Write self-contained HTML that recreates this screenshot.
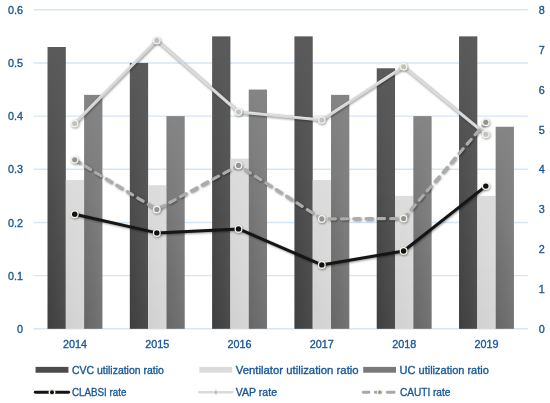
<!DOCTYPE html>
<html lang="en"><head><meta charset="utf-8"><title>Device utilization ratios and infection rates</title>
<style>html,body{margin:0;padding:0;background:#fff}body{width:550px;height:403px;overflow:hidden}svg{display:block}text{font-family:"Liberation Sans",Arial,sans-serif;font-size:10.8px;fill:#195893;stroke:#195893;stroke-width:.35px}</style></head><body>
<svg width="550" height="403" viewBox="0 0 550 403">
<defs>
<linearGradient id="hg" x1="0" y1="0" x2="1" y2="0"><stop offset="0" stop-color="#000" stop-opacity=".23"/><stop offset="1" stop-color="#000" stop-opacity=".08"/></linearGradient>
<linearGradient id="vg" x1="0" y1="0" x2="0" y2="1"><stop offset="0" stop-color="#fff" stop-opacity=".08"/><stop offset=".5" stop-color="#fff" stop-opacity=".72"/><stop offset="1" stop-color="#fff" stop-opacity="1"/></linearGradient>
<linearGradient id="vd" x1="0" y1="0" x2="0" y2="1"><stop offset="0" stop-color="#000" stop-opacity="0"/><stop offset=".45" stop-color="#000" stop-opacity="0"/><stop offset="1" stop-color="#000" stop-opacity=".11"/></linearGradient>
<mask id="vm" maskContentUnits="objectBoundingBox"><rect x="0" y="0" width="1" height="1" fill="url(#vg)"/></mask>
<filter id="sh" x="-5%" y="-5%" width="110%" height="110%"><feGaussianBlur stdDeviation="0.9"/></filter>
<filter id="shm" x="-50%" y="-50%" width="200%" height="200%"><feGaussianBlur stdDeviation="1"/></filter>
</defs>
<rect width="550" height="403" fill="#fff"/>
<line x1="33.8" y1="328.80" x2="527.8" y2="328.80" stroke="#d5e6f5" stroke-width="1.4"/>
<line x1="33.8" y1="275.63" x2="527.8" y2="275.63" stroke="#d5e6f5" stroke-width="1.4"/>
<line x1="33.8" y1="222.46" x2="527.8" y2="222.46" stroke="#d5e6f5" stroke-width="1.4"/>
<line x1="33.8" y1="169.29" x2="527.8" y2="169.29" stroke="#d5e6f5" stroke-width="1.4"/>
<line x1="33.8" y1="116.12" x2="527.8" y2="116.12" stroke="#d5e6f5" stroke-width="1.4"/>
<line x1="33.8" y1="62.95" x2="527.8" y2="62.95" stroke="#d5e6f5" stroke-width="1.4"/>
<line x1="33.8" y1="9.78" x2="527.8" y2="9.78" stroke="#d5e6f5" stroke-width="1.4"/>
<rect x="47.52" y="47.00" width="18.30" height="281.80" fill="#5c5c5c"/>
<rect x="47.52" y="47.00" width="18.30" height="281.80" fill="url(#hg)" mask="url(#vm)" opacity="1"/>
<rect x="47.52" y="47.00" width="18.30" height="281.80" fill="url(#vd)" opacity="1"/>
<rect x="65.83" y="179.92" width="18.30" height="148.88" fill="#dcdcdc"/>
<rect x="65.83" y="179.92" width="18.30" height="148.88" fill="url(#hg)" mask="url(#vm)" opacity=".15"/>
<rect x="65.83" y="179.92" width="18.30" height="148.88" fill="url(#vd)" opacity=".15"/>
<rect x="84.12" y="94.85" width="18.30" height="233.95" fill="#868686"/>
<rect x="84.12" y="94.85" width="18.30" height="233.95" fill="url(#hg)" mask="url(#vm)" opacity=".75"/>
<rect x="84.12" y="94.85" width="18.30" height="233.95" fill="url(#vd)" opacity=".75"/>
<rect x="129.82" y="62.95" width="18.30" height="265.85" fill="#5c5c5c"/>
<rect x="129.82" y="62.95" width="18.30" height="265.85" fill="url(#hg)" mask="url(#vm)" opacity="1"/>
<rect x="129.82" y="62.95" width="18.30" height="265.85" fill="url(#vd)" opacity="1"/>
<rect x="148.12" y="185.24" width="18.30" height="143.56" fill="#dcdcdc"/>
<rect x="148.12" y="185.24" width="18.30" height="143.56" fill="url(#hg)" mask="url(#vm)" opacity=".15"/>
<rect x="148.12" y="185.24" width="18.30" height="143.56" fill="url(#vd)" opacity=".15"/>
<rect x="166.42" y="116.12" width="18.30" height="212.68" fill="#868686"/>
<rect x="166.42" y="116.12" width="18.30" height="212.68" fill="url(#hg)" mask="url(#vm)" opacity=".75"/>
<rect x="166.42" y="116.12" width="18.30" height="212.68" fill="url(#vd)" opacity=".75"/>
<rect x="212.12" y="36.36" width="18.30" height="292.44" fill="#5c5c5c"/>
<rect x="212.12" y="36.36" width="18.30" height="292.44" fill="url(#hg)" mask="url(#vm)" opacity="1"/>
<rect x="212.12" y="36.36" width="18.30" height="292.44" fill="url(#vd)" opacity="1"/>
<rect x="230.42" y="158.66" width="18.30" height="170.14" fill="#dcdcdc"/>
<rect x="230.42" y="158.66" width="18.30" height="170.14" fill="url(#hg)" mask="url(#vm)" opacity=".15"/>
<rect x="230.42" y="158.66" width="18.30" height="170.14" fill="url(#vd)" opacity=".15"/>
<rect x="248.72" y="89.53" width="18.30" height="239.27" fill="#868686"/>
<rect x="248.72" y="89.53" width="18.30" height="239.27" fill="url(#hg)" mask="url(#vm)" opacity=".75"/>
<rect x="248.72" y="89.53" width="18.30" height="239.27" fill="url(#vd)" opacity=".75"/>
<rect x="294.43" y="36.36" width="18.30" height="292.44" fill="#5c5c5c"/>
<rect x="294.43" y="36.36" width="18.30" height="292.44" fill="url(#hg)" mask="url(#vm)" opacity="1"/>
<rect x="294.43" y="36.36" width="18.30" height="292.44" fill="url(#vd)" opacity="1"/>
<rect x="312.73" y="179.92" width="18.30" height="148.88" fill="#dcdcdc"/>
<rect x="312.73" y="179.92" width="18.30" height="148.88" fill="url(#hg)" mask="url(#vm)" opacity=".15"/>
<rect x="312.73" y="179.92" width="18.30" height="148.88" fill="url(#vd)" opacity=".15"/>
<rect x="331.03" y="94.85" width="18.30" height="233.95" fill="#868686"/>
<rect x="331.03" y="94.85" width="18.30" height="233.95" fill="url(#hg)" mask="url(#vm)" opacity=".75"/>
<rect x="331.03" y="94.85" width="18.30" height="233.95" fill="url(#vd)" opacity=".75"/>
<rect x="376.73" y="68.27" width="18.30" height="260.53" fill="#5c5c5c"/>
<rect x="376.73" y="68.27" width="18.30" height="260.53" fill="url(#hg)" mask="url(#vm)" opacity="1"/>
<rect x="376.73" y="68.27" width="18.30" height="260.53" fill="url(#vd)" opacity="1"/>
<rect x="395.03" y="195.88" width="18.30" height="132.93" fill="#dcdcdc"/>
<rect x="395.03" y="195.88" width="18.30" height="132.93" fill="url(#hg)" mask="url(#vm)" opacity=".15"/>
<rect x="395.03" y="195.88" width="18.30" height="132.93" fill="url(#vd)" opacity=".15"/>
<rect x="413.33" y="116.12" width="18.30" height="212.68" fill="#868686"/>
<rect x="413.33" y="116.12" width="18.30" height="212.68" fill="url(#hg)" mask="url(#vm)" opacity=".75"/>
<rect x="413.33" y="116.12" width="18.30" height="212.68" fill="url(#vd)" opacity=".75"/>
<rect x="459.03" y="36.36" width="18.30" height="292.44" fill="#5c5c5c"/>
<rect x="459.03" y="36.36" width="18.30" height="292.44" fill="url(#hg)" mask="url(#vm)" opacity="1"/>
<rect x="459.03" y="36.36" width="18.30" height="292.44" fill="url(#vd)" opacity="1"/>
<rect x="477.33" y="195.88" width="18.30" height="132.93" fill="#dcdcdc"/>
<rect x="477.33" y="195.88" width="18.30" height="132.93" fill="url(#hg)" mask="url(#vm)" opacity=".15"/>
<rect x="477.33" y="195.88" width="18.30" height="132.93" fill="url(#vd)" opacity=".15"/>
<rect x="495.63" y="126.75" width="18.30" height="202.05" fill="#868686"/>
<rect x="495.63" y="126.75" width="18.30" height="202.05" fill="url(#hg)" mask="url(#vm)" opacity=".75"/>
<rect x="495.63" y="126.75" width="18.30" height="202.05" fill="url(#vd)" opacity=".75"/>
<text x="23" y="332.90" text-anchor="end">0</text>
<text x="23" y="279.73" text-anchor="end">0.1</text>
<text x="23" y="226.56" text-anchor="end">0.2</text>
<text x="23" y="173.39" text-anchor="end">0.3</text>
<text x="23" y="120.22" text-anchor="end">0.4</text>
<text x="23" y="67.05" text-anchor="end">0.5</text>
<text x="23" y="13.88" text-anchor="end">0.6</text>
<text x="541.8" y="332.90" text-anchor="middle">0</text>
<text x="541.8" y="293.04" text-anchor="middle">1</text>
<text x="541.8" y="253.17" text-anchor="middle">2</text>
<text x="541.8" y="213.31" text-anchor="middle">3</text>
<text x="541.8" y="173.45" text-anchor="middle">4</text>
<text x="541.8" y="133.59" text-anchor="middle">5</text>
<text x="541.8" y="93.72" text-anchor="middle">6</text>
<text x="541.8" y="53.86" text-anchor="middle">7</text>
<text x="541.8" y="14.00" text-anchor="middle">8</text>
<text x="74.95" y="348.1" text-anchor="middle">2014</text>
<text x="157.25" y="348.1" text-anchor="middle">2015</text>
<text x="239.55" y="348.1" text-anchor="middle">2016</text>
<text x="321.85" y="348.1" text-anchor="middle">2017</text>
<text x="404.15" y="348.1" text-anchor="middle">2018</text>
<text x="486.45" y="348.1" text-anchor="middle">2019</text>
<polyline points="74.7,214.2 156.8,232.9 238.5,228.9 321.8,264.9 403.6,251.0 485.8,186.1" fill="none" stroke="#000" stroke-opacity="0.4" stroke-width="3" stroke-linejoin="round" transform="translate(.8,1)" filter="url(#sh)"/>
<polyline points="74.7,214.2 156.8,232.9 238.5,228.9 321.8,264.9 403.6,251.0 485.8,186.1" fill="none" stroke="#151515" stroke-width="3.0" stroke-linejoin="round"/>
<circle cx="75.3" cy="215.2" r="4" fill="#000" fill-opacity=".38" filter="url(#shm)"/>
<circle cx="74.7" cy="214.2" r="4.0" fill="#f2f2e8"/>
<circle cx="74.7" cy="214.2" r="2.7" fill="#111"/>
<circle cx="157.4" cy="233.9" r="4" fill="#000" fill-opacity=".38" filter="url(#shm)"/>
<circle cx="156.8" cy="232.9" r="4.0" fill="#f2f2e8"/>
<circle cx="156.8" cy="232.9" r="2.7" fill="#111"/>
<circle cx="239.1" cy="229.9" r="4" fill="#000" fill-opacity=".38" filter="url(#shm)"/>
<circle cx="238.5" cy="228.9" r="4.0" fill="#f2f2e8"/>
<circle cx="238.5" cy="228.9" r="2.7" fill="#111"/>
<circle cx="322.4" cy="265.9" r="4" fill="#000" fill-opacity=".38" filter="url(#shm)"/>
<circle cx="321.8" cy="264.9" r="4.0" fill="#f2f2e8"/>
<circle cx="321.8" cy="264.9" r="2.7" fill="#111"/>
<circle cx="404.2" cy="252.0" r="4" fill="#000" fill-opacity=".38" filter="url(#shm)"/>
<circle cx="403.6" cy="251.0" r="4.0" fill="#f2f2e8"/>
<circle cx="403.6" cy="251.0" r="2.7" fill="#111"/>
<circle cx="486.4" cy="187.1" r="4" fill="#000" fill-opacity=".38" filter="url(#shm)"/>
<circle cx="485.8" cy="186.1" r="4.0" fill="#f2f2e8"/>
<circle cx="485.8" cy="186.1" r="2.7" fill="#111"/>
<polyline points="74.7,123.5 156.8,40.4 238.5,112.0 321.8,120.0 403.6,66.8 485.8,134.3" fill="none" stroke="#000" stroke-opacity="0.4" stroke-width="3" stroke-linejoin="round" transform="translate(.8,1)" filter="url(#sh)"/>
<polyline points="74.7,123.5 156.8,40.4 238.5,112.0 321.8,120.0 403.6,66.8 485.8,134.3" fill="none" stroke="#d4d4d4" stroke-width="3.2" stroke-linejoin="round"/>
<polyline points="74.7,123.5 156.8,40.4 238.5,112.0 321.8,120.0 403.6,66.8 485.8,134.3" fill="none" stroke="#e4e4e4" stroke-width="1" stroke-linejoin="round" transform="translate(-.6,-.7)"/>
<circle cx="75.3" cy="124.5" r="4" fill="#000" fill-opacity=".38" filter="url(#shm)"/>
<circle cx="74.7" cy="123.5" r="4.0" fill="#f2f2e8"/>
<circle cx="74.7" cy="123.5" r="2.55" fill="#c2c2c2"/>
<circle cx="157.4" cy="41.4" r="4" fill="#000" fill-opacity=".38" filter="url(#shm)"/>
<circle cx="156.8" cy="40.4" r="4.0" fill="#f2f2e8"/>
<circle cx="156.8" cy="40.4" r="2.55" fill="#c2c2c2"/>
<circle cx="239.1" cy="113.0" r="4" fill="#000" fill-opacity=".38" filter="url(#shm)"/>
<circle cx="238.5" cy="112.0" r="4.0" fill="#f2f2e8"/>
<circle cx="238.5" cy="112.0" r="2.55" fill="#c2c2c2"/>
<circle cx="322.4" cy="121.0" r="4" fill="#000" fill-opacity=".38" filter="url(#shm)"/>
<circle cx="321.8" cy="120.0" r="4.0" fill="#f2f2e8"/>
<circle cx="321.8" cy="120.0" r="2.55" fill="#c2c2c2"/>
<circle cx="404.2" cy="67.8" r="4" fill="#000" fill-opacity=".38" filter="url(#shm)"/>
<circle cx="403.6" cy="66.8" r="4.0" fill="#f2f2e8"/>
<circle cx="403.6" cy="66.8" r="2.55" fill="#c2c2c2"/>
<circle cx="486.4" cy="135.3" r="4" fill="#000" fill-opacity=".38" filter="url(#shm)"/>
<circle cx="485.8" cy="134.3" r="4.0" fill="#f2f2e8"/>
<circle cx="485.8" cy="134.3" r="2.55" fill="#c2c2c2"/>
<polyline points="74.7,159.8 156.8,209.5 238.5,165.4 321.8,218.9 403.6,218.5 485.8,122.3" fill="none" stroke="#000" stroke-opacity="0.45" stroke-width="3" stroke-linejoin="round" stroke-dasharray="6.2 6.1" stroke-linecap="round" transform="translate(.8,1)" filter="url(#sh)"/>
<polyline points="74.7,159.8 156.8,209.5 238.5,165.4 321.8,218.9 403.6,218.5 485.8,122.3" fill="none" stroke="#acacac" stroke-width="3.2" stroke-linejoin="round" stroke-dasharray="6.2 6.1" stroke-linecap="round"/>
<circle cx="75.3" cy="160.8" r="4" fill="#000" fill-opacity=".38" filter="url(#shm)"/>
<circle cx="74.7" cy="159.8" r="4.0" fill="#f2f2e8"/>
<circle cx="74.7" cy="159.8" r="2.55" fill="#939393"/>
<circle cx="157.4" cy="210.5" r="4" fill="#000" fill-opacity=".38" filter="url(#shm)"/>
<circle cx="156.8" cy="209.5" r="4.0" fill="#f2f2e8"/>
<circle cx="156.8" cy="209.5" r="2.55" fill="#939393"/>
<circle cx="239.1" cy="166.4" r="4" fill="#000" fill-opacity=".38" filter="url(#shm)"/>
<circle cx="238.5" cy="165.4" r="4.0" fill="#f2f2e8"/>
<circle cx="238.5" cy="165.4" r="2.55" fill="#939393"/>
<circle cx="322.4" cy="219.9" r="4" fill="#000" fill-opacity=".38" filter="url(#shm)"/>
<circle cx="321.8" cy="218.9" r="4.0" fill="#f2f2e8"/>
<circle cx="321.8" cy="218.9" r="2.55" fill="#939393"/>
<circle cx="404.2" cy="219.5" r="4" fill="#000" fill-opacity=".38" filter="url(#shm)"/>
<circle cx="403.6" cy="218.5" r="4.0" fill="#f2f2e8"/>
<circle cx="403.6" cy="218.5" r="2.55" fill="#939393"/>
<circle cx="486.4" cy="123.3" r="4" fill="#000" fill-opacity=".38" filter="url(#shm)"/>
<circle cx="485.8" cy="122.3" r="4.0" fill="#f2f2e8"/>
<circle cx="485.8" cy="122.3" r="2.55" fill="#939393"/>
<rect x="35.6" y="366.9" width="32.8" height="5.8" fill="#5c5c5c"/>
<rect x="35.6" y="366.9" width="32.8" height="5.8" fill="#000" opacity=".18"/>
<rect x="199.3" y="366.9" width="32.8" height="5.8" fill="#e0e0e0"/>
<rect x="199.3" y="366.9" width="32.8" height="5.8" fill="#000" opacity=".02"/>
<rect x="363.2" y="366.9" width="32.8" height="5.8" fill="#878787"/>
<rect x="363.2" y="366.9" width="32.8" height="5.8" fill="#000" opacity=".1"/>
<text x="72.0" y="373.9" textLength="91.8" lengthAdjust="spacingAndGlyphs">CVC utilization ratio</text>
<text x="235.8" y="373.9" textLength="122.8" lengthAdjust="spacingAndGlyphs">Ventilator utilization ratio</text>
<text x="399.6" y="373.9" textLength="89.2" lengthAdjust="spacingAndGlyphs">UC utilization ratio</text>
<text x="72.0" y="395.7" textLength="54.4" lengthAdjust="spacingAndGlyphs">CLABSI rate</text>
<text x="235.8" y="395.7" textLength="41.2" lengthAdjust="spacingAndGlyphs">VAP rate</text>
<text x="399.9" y="395.7" textLength="50.5" lengthAdjust="spacingAndGlyphs">CAUTI rate</text>
<line x1="35.3" y1="392.2" x2="68.6" y2="392.2" stroke="#141414" stroke-width="2.9" stroke-linecap="round"/>
<circle cx="52.0" cy="392.2" r="3.4" fill="#efefe4"/><circle cx="52.0" cy="392.2" r="2.0" fill="#111"/>
<line x1="199.5" y1="392.2" x2="232.1" y2="392.2" stroke="#d9d9d9" stroke-width="2.6" stroke-linecap="round"/>
<circle cx="215.8" cy="392.2" r="2.6" fill="#efefe4"/><circle cx="215.8" cy="392.2" r="1.5" fill="#b8b8b8"/>
<line x1="363.3" y1="392.2" x2="394.2" y2="392.2" stroke="#a8a8a8" stroke-width="2.9" stroke-linecap="round" stroke-dasharray="5.7 6.3 5.7 6.3 7 6"/>
<circle cx="379.9" cy="392.2" r="3.0" fill="#efefe4"/><circle cx="379.9" cy="392.2" r="1.7" fill="#8e8e8e"/>
</svg></body></html>
